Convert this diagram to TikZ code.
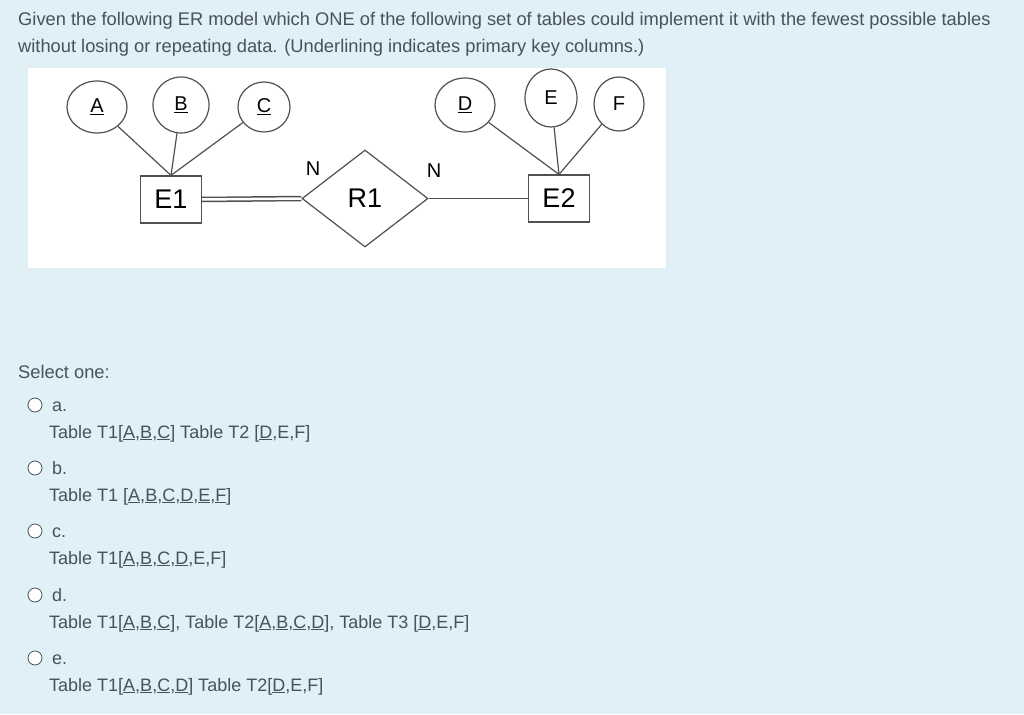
\documentclass[tikz,border=0pt]{standalone}
\usepackage{fontspec}
\setmainfont{Liberation Sans}
\usetikzlibrary{shapes.geometric}
\definecolor{bgc}{HTML}{E1EFF7}
\definecolor{txt}{HTML}{46525E}
\definecolor{ln}{HTML}{505050}
\newcommand{\ul}[1]{\underline{#1}}
\begin{document}
\begin{tikzpicture}[x=1pt,y=-1pt,
  q/.style={anchor=base west,inner sep=0pt,text=txt,font=\fontsize{18.3}{22}\selectfont},
  qo/.style={q,font=\fontsize{18}{22}\selectfont},
  attr/.style={ellipse,draw=ln,fill=white,line width=1.2pt,inner sep=0pt,font=\fontsize{20}{22}\selectfont},
  ent/.style={draw=ln,line width=1.2pt,inner sep=0pt,minimum width=61pt,minimum height=47pt,font=\fontsize{27}{30}\selectfont},
  conn/.style={draw=ln,line width=1.2pt},
  radio/.style={circle,draw=txt,line width=0.8pt,fill=white,minimum size=14pt,inner sep=0pt}]
\fill[bgc] (0,0) rectangle (1024,714);
\useasboundingbox (0,0) rectangle (1024,714);
\fill[white] (28,68) rectangle (666,268);
\node[q] (t1) at (18,26) {Given the following ER model which ONE of the following set of tables could implement it with the fewest possible tables};
\node[q] (t2) at (18,53) {without losing or repeating data. (Underlining indicates primary key columns.)};
% ER
\node[ent] (e1) at (171,199.5) {E1};
\node[ent] (e2) at (559,198.5) {E2};
\node[diamond,draw=ln,line width=1.2pt,fill=white,minimum width=126pt,minimum height=97pt,inner sep=0pt,font=\fontsize{27}{30}\selectfont] (r1) at (365,198.5) {R1};
\node[attr,minimum width=60pt,minimum height=52pt] (a) at (97,107) {\ul{A}};
\node[attr,minimum width=56pt,minimum height=56pt] (b) at (181,105) {\ul{B}};
\node[attr,minimum width=52pt,minimum height=50pt] (c) at (264,107) {\ul{C}};
\node[attr,minimum width=60pt,minimum height=54pt] (d) at (465,105) {\ul{D}};
\node[attr,minimum width=52pt,minimum height=58pt] (e) at (551,98) {E};
\node[attr,minimum width=50pt,minimum height=54pt] (f) at (619,104) {F};
\foreach \n in {a,b,c} \draw[conn] (\n) -- (e1.north);
\foreach \n in {d,e,f} \draw[conn] (\n) -- (e2.north);
\draw[conn,line width=1.5pt,double=white,double distance=2.5pt] (e1.east) -- (r1.west);
\draw[conn,line width=1.5pt] (r1.east) -- (e2.west);
\node[font=\fontsize{20}{24}\selectfont] (n1) at (313,169) {N};
\node[font=\fontsize{20}{24}\selectfont] (n2) at (434,171) {N};
% options
\node[q] (sel) at (18,378) {Select one:};
\foreach \y/\l in {405/a.,468/b.,531/c.,595/d.,658/e.}{
  \node[radio] at (35,\y) {};
  \node[qo] at (52,\y+6) {\l};
}
\node[qo] (oa) at (49,438) {Table T1[\ul{A},\ul{B},\ul{C}] Table T2 [\ul{D},E,F]};
\node[qo] (ob) at (49,501) {Table T1 [\ul{A},\ul{B},\ul{C},\ul{D},\ul{E},\ul{F}]};
\node[qo] (oc) at (49,564) {Table T1[\ul{A},\ul{B},\ul{C},\ul{D},E,F]};
\node[qo] (od) at (49,628) {Table T1[\ul{A},\ul{B},\ul{C}], Table T2[\ul{A},\ul{B},\ul{C},\ul{D}], Table T3 [\ul{D},E,F]};
\node[qo] (oe) at (49,691) {Table T1[\ul{A},\ul{B},\ul{C},\ul{D}] Table T2[\ul{D},E,F]};
\end{tikzpicture}
\end{document}
